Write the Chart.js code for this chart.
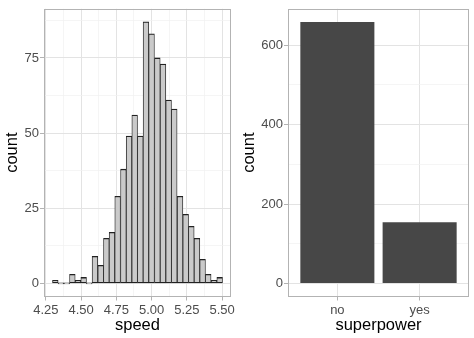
<!DOCTYPE html>
<html>
<head>
<meta charset="utf-8">
<script src="https://cdn.jsdelivr.net/npm/chart.js@4/dist/chart.umd.min.js"></script>
<style>
  html, body { margin: 0; padding: 0; background: #ffffff; }
  #wrap { position: relative; width: 474px; height: 338px; overflow: hidden; }
  .pane { position: absolute; top: 0; width: 237px; height: 338px; }
  #leftPane { left: 0; }
  #rightPane { left: 237px; }
</style>
</head>
<body>
<div id="wrap">
  <div class="pane" id="leftPane"><canvas id="speedChart" width="237" height="338"></canvas></div>
  <div class="pane" id="rightPane"><canvas id="powerChart" width="237" height="338"></canvas></div>
</div>
<script>
// Histogram of speed: 30 bins (bin centres) and their counts
const speedBinCenters = [
  4.317, 4.357, 4.398, 4.438, 4.478, 4.518, 4.558, 4.598, 4.639, 4.679,
  4.719, 4.759, 4.800, 4.840, 4.880, 4.920, 4.960, 5.000, 5.041, 5.081,
  5.121, 5.161, 5.202, 5.242, 5.282, 5.322, 5.362, 5.402, 5.443, 5.483
];
const speedCounts = [
  1, 0, 0, 3, 1, 2, 0, 9, 6, 15,
  17, 29, 38, 49, 56, 49, 87, 83, 75, 73,
  61, 58, 29, 23, 19, 15, 8, 3, 1, 2
];
const speedTicks = [4.25, 4.50, 4.75, 5.00, 5.25, 5.50];
const speedMinorTicks = [4.375, 4.625, 4.875, 5.125, 5.375];
const speedCountTicks = [0, 25, 50, 75];
const speedCountMinorTicks = [12.5, 37.5, 62.5, 87.5];

// Bar chart of superpower counts
const powerCategories = ['no', 'yes'];
const powerCounts = [659, 154];
const powerCountTicks = [0, 200, 400, 600];
const powerCountMinorTicks = [100, 300, 500];

const FONT = "'Liberation Sans', Arial, Helvetica, sans-serif";
const TICK_TEXT = '#4D4D4D';
const GRID_MAJOR = '#E3E3E3';
const GRID_MINOR = '#F1F1F1';
const FRAME = '#B3B3B3';

function tickSetter(major, minor) {
  return function (scale) {
    const all = major.map(v => ({ value: v }))
      .concat(minor.map(v => ({ value: v, minor: true })));
    all.sort((a, b) => a.value - b.value);
    scale.ticks = all;
  };
}

function gridStyle() {
  return {
    offset: false,
    drawTicks: true,
    tickLength: 4,
    tickWidth: 1,
    color: ctx => (ctx.tick && ctx.tick.minor) ? GRID_MINOR : GRID_MAJOR,
    lineWidth: ctx => (ctx.tick && ctx.tick.minor) ? 0.7 : 1,
    tickColor: ctx => (ctx.tick && ctx.tick.minor) ? 'rgba(0,0,0,0)' : FRAME
  };
}

function labelFor(format) {
  return function (value, index, ticks) {
    return ticks[index].minor ? '' : format(value);
  };
}

// Light grey frame around the plotting panel
const panelFrame = {
  id: 'panelFrame',
  afterDatasetsDraw(chart) {
    const { ctx, chartArea: a } = chart;
    ctx.save();
    ctx.strokeStyle = FRAME;
    ctx.lineWidth = 1;
    const l = Math.round(a.left) + 0.5, t = Math.round(a.top) + 0.5;
    const r = Math.round(a.right) - 0.5, b = Math.round(a.bottom) - 0.5;
    ctx.strokeRect(l, t, r - l, b - t);
    ctx.restore();
  }
};

function yAxis(maxCount, major, minor, width) {
  return {
    type: 'linear',
    min: -0.05 * maxCount,
    max: 1.05 * maxCount,
    afterBuildTicks: tickSetter(major, minor),
    afterFit: s => { s.width = width; },
    border: { display: false },
    grid: gridStyle(),
    ticks: {
      autoSkip: false,
      padding: 1,
      color: TICK_TEXT,
      font: { family: FONT, size: 13 },
      callback: labelFor(v => String(v))
    },
    title: {
      display: true,
      text: 'count',
      color: '#000000',
      font: { family: FONT, size: 16.5 },
      padding: { top: 2.4, bottom: 0 }
    }
  };
}

function xTitle(text) {
  return {
    display: true,
    text: text,
    color: '#000000',
    font: { family: FONT, size: 16.5 },
    padding: { top: 0, bottom: 3 }
  };
}

// Left panel: histogram
const binWidth = speedBinCenters[1] - speedBinCenters[0];
const binLo = speedBinCenters[0] - binWidth / 2;
const binHi = speedBinCenters[speedBinCenters.length - 1] + binWidth / 2;
const speedPad = 0.05 * (binHi - binLo);
const speedMax = Math.max(...speedCounts);

new Chart(document.getElementById('speedChart'), {
  type: 'bar',
  data: {
    datasets: [{
      data: speedBinCenters.map((x, i) => ({ x: x, y: speedCounts[i] })),
      backgroundColor: '#CACACA',
      borderColor: '#222222',
      borderWidth: { left: 0.85, right: 0.85, top: 1.3, bottom: 1.3 },
      borderSkipped: false,
      minBarLength: 1.2,
      barPercentage: 1,
      categoryPercentage: 1
    }]
  },
  options: {
    responsive: false,
    animation: false,
    layout: { padding: { left: 0, right: 6, top: 4.5, bottom: 0 } },
    plugins: { legend: { display: false }, tooltip: { enabled: false } },
    scales: {
      x: {
        type: 'linear',
        offset: false,
        min: binLo - speedPad,
        max: binHi + speedPad,
        afterBuildTicks: tickSetter(speedTicks, speedMinorTicks),
        afterFit: s => { s.height = 41.5; },
        border: { display: false },
        grid: gridStyle(),
        ticks: {
          autoSkip: false,
          maxRotation: 0,
          padding: 2,
          color: TICK_TEXT,
          font: { family: FONT, size: 13 },
          callback: labelFor(v => v.toFixed(2))
        },
        title: xTitle('speed')
      },
      y: yAxis(speedMax, speedCountTicks, speedCountMinorTicks, 44)
    }
  },
  plugins: [panelFrame]
});

// Right panel: counts per superpower category
const powerMax = Math.max(...powerCounts);

new Chart(document.getElementById('powerChart'), {
  type: 'bar',
  data: {
    datasets: [{
      data: powerCategories.map((c, i) => ({ x: i + 1, y: powerCounts[i] })),
      backgroundColor: '#474747',
      borderWidth: 0,
      barPercentage: 0.9,
      categoryPercentage: 1
    }]
  },
  options: {
    responsive: false,
    animation: false,
    layout: { padding: { left: 0, right: 5, top: 5, bottom: 0 } },
    plugins: { legend: { display: false }, tooltip: { enabled: false } },
    scales: {
      x: {
        type: 'linear',
        offset: false,
        min: 0.4,
        max: powerCategories.length + 0.6,
        afterBuildTicks: tickSetter(powerCategories.map((c, i) => i + 1), []),
        afterFit: s => { s.height = 41.5; },
        border: { display: false },
        grid: gridStyle(),
        ticks: {
          autoSkip: false,
          maxRotation: 0,
          padding: 2,
          color: TICK_TEXT,
          font: { family: FONT, size: 13 },
          callback: labelFor(v => powerCategories[Math.round(v) - 1])
        },
        title: xTitle('superpower')
      },
      y: yAxis(powerMax, powerCountTicks, powerCountMinorTicks, 51)
    }
  },
  plugins: [panelFrame]
});
</script>
</body>
</html>
